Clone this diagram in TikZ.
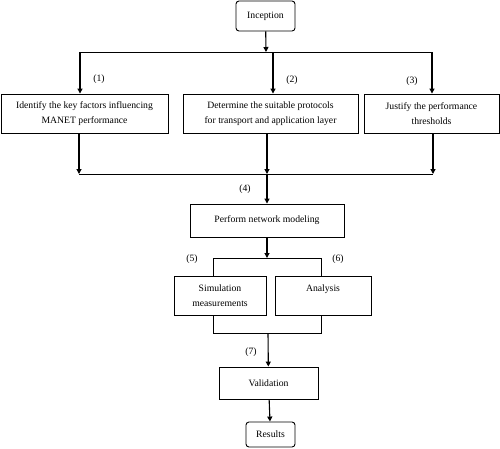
\documentclass[tikz,border=0pt]{standalone}
\usepackage{fontspec}
\setmainfont{Liberation Serif}
\usetikzlibrary{arrows.meta, positioning, calc}

\tikzset{
  box/.style={draw, line width=0.9pt, inner sep=2pt, align=center,
    font=\fontsize{9.7}{15}\selectfont},
  rbox/.style={box, rounded corners=3pt},
  arr/.style={line width=1.1pt, -{Triangle[length=5pt, width=5pt]}},
  link/.style={line width=0.9pt},
  lbl/.style={font=\fontsize{9.7}{12}\selectfont}
}

\begin{document}
\begin{tikzpicture}[x=1pt, y=-1pt]
  \useasboundingbox (0,0) rectangle (500,448);
  % Boxes
  \node[rbox, minimum width=59pt, minimum height=30pt] (incep) at (265.5,16) {Inception};
  \node[box, minimum width=167pt, minimum height=39pt] (factors) at (84.5,113.5)
    {Identify the key factors influencing\\MANET performance};
  \node[box, minimum width=175pt, minimum height=39pt] (protocols) at (270.5,113.5)
    {Determine the suitable protocols\\for transport and application layer};
  \node[box, minimum width=135pt, minimum height=39pt] (thresholds) at (431.5,113.5)
    {Justify the performance\\thresholds};
  \node[box, minimum width=154pt, minimum height=33pt] (modeling) at (267,220.5)
    {Perform network modeling};
  \node[box, minimum width=92pt, minimum height=39pt] (simul) at (220,295.5)
    {Simulation\\measurements};
  \node[box, minimum width=96pt, minimum height=39pt] (analysis) at (323,295.5)
    {Analysis\\\mbox{}};
  \node[box, minimum width=99pt, minimum height=32pt] (valid) at (268.5,383) {Validation};
  \node[rbox, minimum width=49pt, minimum height=25pt] (results) at (270.5,434.5) {Results};
  % Step numbers
  \node[lbl] (n1) at (99,79) {(1)};
  \node[lbl] (n2) at (292,80) {(2)};
  \node[lbl] (n3) at (412,81) {(3)};
  \node[lbl] (n4) at (245,189) {(4)};
  \node[lbl] (n5) at (192,259) {(5)};
  \node[lbl] (n6) at (338,259) {(6)};
  \node[lbl] (n7) at (251,352) {(7)};
  % Branch points
  \coordinate (topC) at (266,52);
  \coordinate (topL) at (80,52);
  \coordinate (topM) at (273,52);
  \coordinate (topR) at (432,52);
  \coordinate (midL) at (79,174);
  \coordinate (midC) at (267,174);
  \coordinate (midR) at (433,174);
  \coordinate (forkC) at (267,258);
  \coordinate (forkL) at (213,258);
  \coordinate (forkR) at (321,258);
  \coordinate (joinC) at (268,333);
  \coordinate (joinL) at (213,333);
  \coordinate (joinR) at (321,333);
  % Connectors
  \draw[arr] (incep) -- (topC);
  \draw[link] (topL) -- (topR);
  \draw[arr] (topL) -- (topL |- factors.north);
  \draw[arr] (topM) -- (topM |- protocols.north);
  \draw[arr] (topR) -- (topR |- thresholds.north);
  \draw[arr] (midL |- factors.south) -- (midL);
  \draw[arr] (midC |- protocols.south) -- (midC);
  \draw[arr] (midR |- thresholds.south) -- (midR);
  \draw[link] (midL) -- (midR);
  \draw[arr] (midC) -- (modeling);
  \draw[arr] (modeling) -- (forkC);
  \draw[link] (forkL |- simul.north) -- (forkL) -- (forkR) -- (forkR |- analysis.north);
  \draw[link] (joinL |- simul.south) -- (joinL) -- (joinR) -- (joinR |- analysis.south);
  \draw[arr] (joinC) -- (valid);
  \draw[arr] (valid) -- (results);
\end{tikzpicture}
\end{document}
